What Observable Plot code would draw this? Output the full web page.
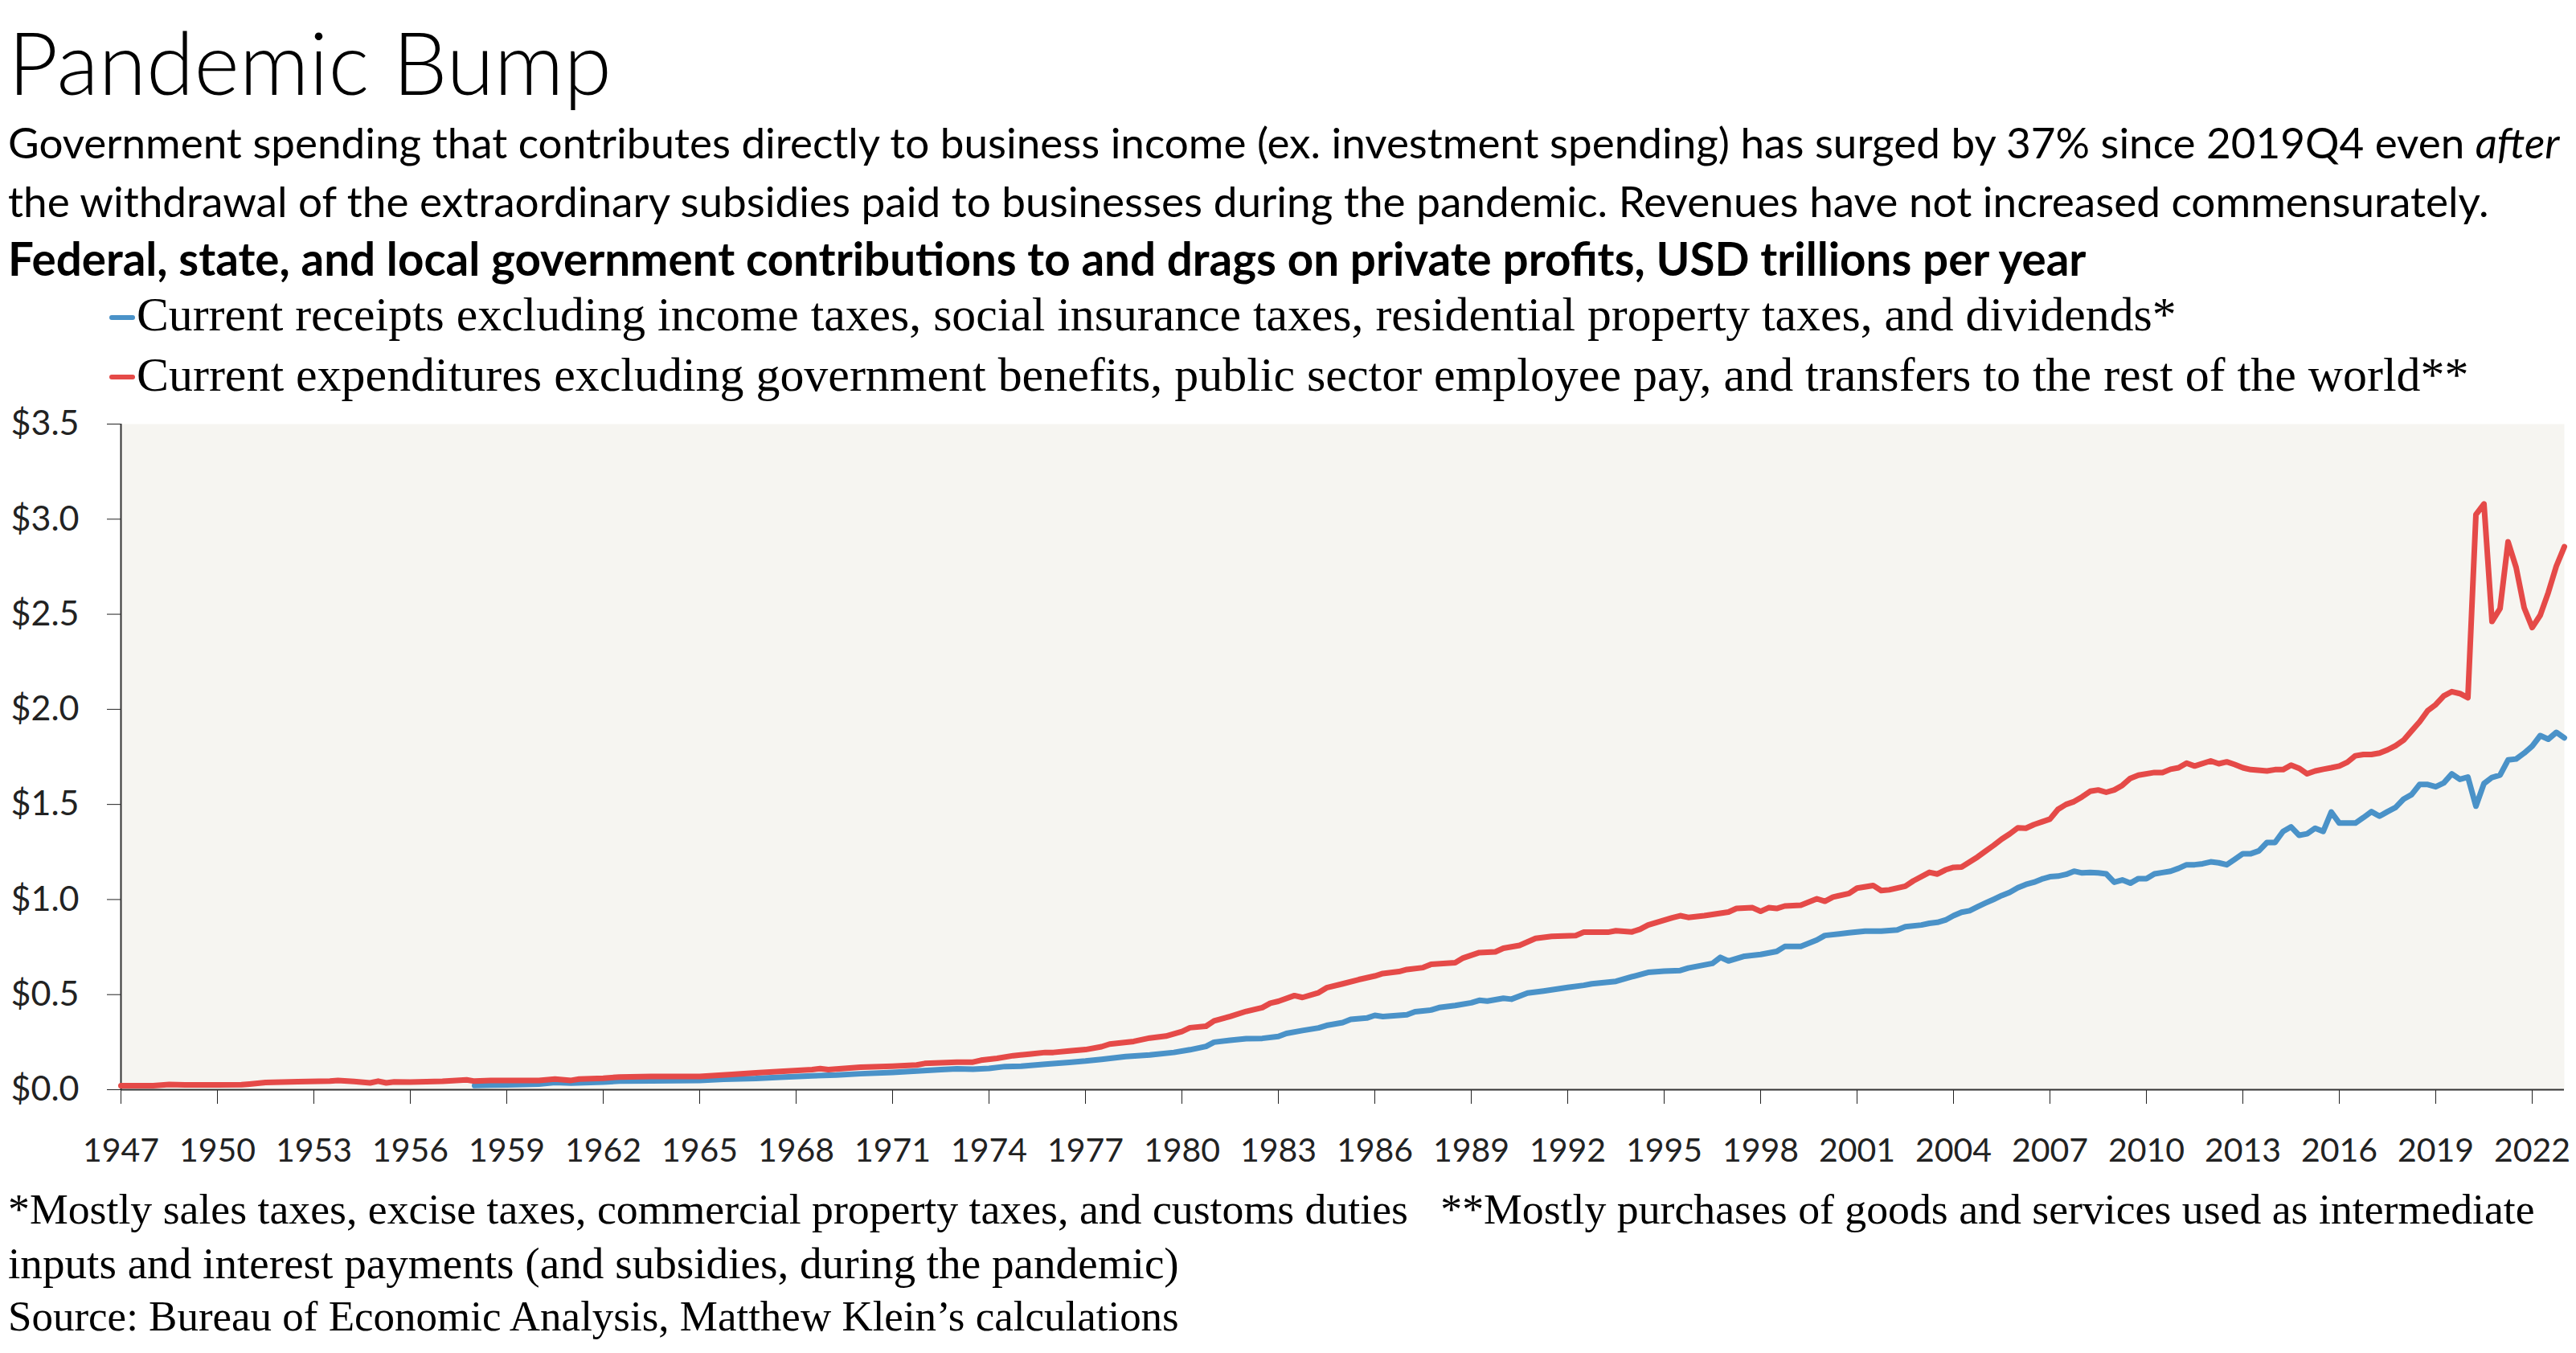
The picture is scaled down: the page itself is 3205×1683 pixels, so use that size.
<!DOCTYPE html>
<html>
<head>
<meta charset="utf-8">
<script src="https://cdn.jsdelivr.net/npm/d3@7"></script>
<script src="https://cdn.jsdelivr.net/npm/@observablehq/plot@0.6"></script>
<style>
  html, body { margin: 0; padding: 0; background: #ffffff; }
  body { width: 3205px; height: 1683px; position: relative; overflow: hidden; }
  .t { position: absolute; left: 10px; top: 0px; white-space: pre; display: inline-block; color: #000; line-height: 1; }
  .sans { font-family: Lato, "Open Sans", sans-serif; }
  .serif { font-family: "Liberation Serif", "DejaVu Serif", serif; }
  .dash { position: absolute; left: 136px; width: 32px; height: 6px; border-radius: 3px; }
  #chart { position: absolute; left: 0; top: 500px; }
  #chart svg g[aria-label="y-axis tick label"] text { font-size: 43px; }
</style>
</head>
<body>
<div id="title" class="t sans" style="font-size:98px;font-weight:300;">Pandemic Bump</div>
<div id="sub1" class="t sans" style="font-size:48px;">Government spending that contributes directly to business income (ex. investment spending) has surged by 37% since 2019Q4 even <i>after</i></div>
<div id="sub2" class="t sans" style="font-size:48px;">the withdrawal of the extraordinary subsidies paid to businesses during the pandemic. Revenues have not increased commensurately.</div>
<div id="head" class="t sans" style="font-size:46px;font-weight:700;">Federal, state, and local government contributions to and drags on private profits, USD trillions per year</div>
<div class="dash" style="top:392px;background:#4a92c8;"></div>
<div id="leg1" class="t serif" style="left:170px;font-size:54px;">Current receipts excluding income taxes, social insurance taxes, residential property taxes, and dividends*</div>
<div class="dash" style="top:466px;background:#e54a48;"></div>
<div id="leg2" class="t serif" style="left:170px;font-size:54px;">Current expenditures excluding government benefits, public sector employee pay, and transfers to the rest of the world**</div>
<div id="chart"></div>
<div id="foot1" class="t serif" style="font-size:48px;">*Mostly sales taxes, excise taxes, commercial property taxes, and customs duties   **Mostly purchases of goods and services used as intermediate</div>
<div id="foot2" class="t serif" style="font-size:48px;">inputs and interest payments (and subsidies, during the pandemic)</div>
<div id="foot3" class="t serif" style="font-size:48px;">Source: Bureau of Economic Analysis, Matthew Klein’s calculations</div>

<script>
// ---- DATA (USD trillions per year) ----
const expYears = [1947,1948,1948.5,1949,1950,1950.75,1951,1951.5,1952.5,1953.5,1953.75,1954.25,1954.75,1955,1955.25,1955.5,1956,1957,1957.75,1958,1958.5,1959,1960,1960.5,1961,1961.25,1962,1962.5,1963.5,1965,1966,1966.75,1967.5,1968.5,1968.75,1969,1970,1971,1971.75,1972,1973,1973.5,1973.75,1974.25,1974.75,1975.25,1975.75,1976,1976.5,1977,1977.5,1977.75,1978.5,1979,1979.5,1980,1980.25,1980.75,1981,1981.5,1982,1982.5,1982.75,1983,1983.5,1983.75,1984.25,1984.5,1985,1985.5,1986,1986.25,1986.75,1987,1987.5,1987.75,1988.5,1988.75,1989.25,1989.75,1990,1990.5,1991,1991.5,1992.25,1992.5,1993.25,1993.5,1994,1994.25,1994.5,1995.25,1995.5,1995.75,1996.25,1996.75,1997,1997.25,1997.75,1998,1998.25,1998.5,1998.75,1999.25,1999.75,2000,2000.25,2000.75,2001,2001.5,2001.75,2002,2002.5,2002.75,2003.25,2003.5,2003.75,2004,2004.25,2004.5,2004.75,2005,2005.25,2005.5,2005.75,2006,2006.25,2006.5,2007,2007.25,2007.5,2007.75,2008,2008.25,2008.5,2008.75,2009,2009.25,2009.5,2009.75,2010.25,2010.5,2010.75,2011,2011.25,2011.5,2012,2012.25,2012.5,2012.75,2013,2013.25,2013.75,2014,2014.25,2014.5,2014.75,2015,2015.25,2015.5,2015.75,2016,2016.25,2016.5,2016.75,2017,2017.25,2017.5,2017.75,2018,2018.25,2018.5,2018.75,2019,2019.25,2019.5,2019.75,2020,2020.25,2020.5,2020.75,2021,2021.25,2021.5,2021.75,2022,2022.25,2022.5,2022.75,2023];
const expValues = [0.021,0.021,0.027,0.025,0.025,0.026,0.030,0.038,0.042,0.045,0.049,0.043,0.036,0.045,0.036,0.041,0.040,0.044,0.052,0.045,0.049,0.049,0.049,0.056,0.049,0.056,0.060,0.067,0.070,0.070,0.080,0.089,0.096,0.106,0.111,0.106,0.118,0.124,0.130,0.138,0.145,0.145,0.155,0.165,0.179,0.187,0.196,0.196,0.204,0.211,0.226,0.240,0.254,0.272,0.282,0.306,0.326,0.334,0.362,0.385,0.412,0.432,0.455,0.465,0.495,0.485,0.510,0.536,0.557,0.579,0.598,0.611,0.621,0.632,0.642,0.659,0.668,0.693,0.721,0.725,0.744,0.759,0.796,0.806,0.811,0.828,0.828,0.836,0.830,0.844,0.866,0.904,0.915,0.906,0.915,0.928,0.934,0.953,0.957,0.938,0.957,0.953,0.966,0.970,1.004,0.991,1.013,1.032,1.060,1.074,1.047,1.051,1.070,1.098,1.143,1.134,1.156,1.169,1.171,1.197,1.224,1.255,1.285,1.318,1.345,1.377,1.375,1.394,1.423,1.474,1.500,1.515,1.540,1.569,1.576,1.564,1.576,1.600,1.637,1.654,1.668,1.668,1.685,1.693,1.717,1.702,1.729,1.714,1.724,1.710,1.693,1.683,1.676,1.683,1.683,1.707,1.690,1.661,1.676,1.685,1.693,1.702,1.722,1.756,1.763,1.763,1.770,1.787,1.809,1.838,1.887,1.935,1.993,2.025,2.071,2.093,2.083,2.061,3.024,3.080,2.462,2.530,2.881,2.746,2.534,2.430,2.495,2.614,2.753,2.855];

const recYears = [1958,1958.5,1959,1959.5,1960,1960.5,1961,1962,1962.5,1963.5,1965,1965.75,1966.75,1967.5,1968.5,1969.25,1970,1971,1971.75,1972.5,1973,1973.5,1974,1974.5,1975,1975.75,1976,1976.5,1977,1977.5,1978.25,1979,1979.75,1980.25,1980.75,1981,1981.5,1982,1982.5,1983,1983.25,1983.75,1984.25,1984.5,1985,1985.25,1985.75,1986,1986.25,1987,1987.25,1987.75,1988,1988.5,1989,1989.25,1989.5,1990,1990.25,1990.75,1991.25,1992,1992.5,1992.75,1993.5,1994,1994.5,1995,1995.5,1995.75,1996.5,1996.75,1997,1997.5,1998,1998.5,1998.75,1999.25,1999.75,2000,2000.75,2001.25,2001.75,2002.25,2002.5,2003,2003.25,2003.5,2003.75,2004,2004.25,2004.5,2004.75,2005,2005.25,2005.5,2005.75,2006,2006.25,2006.5,2006.75,2007,2007.25,2007.5,2007.75,2008,2008.25,2008.5,2008.75,2009,2009.25,2009.5,2009.75,2010,2010.25,2010.5,2010.75,2011,2011.25,2011.5,2011.75,2012,2012.25,2012.5,2012.75,2013,2013.25,2013.5,2013.75,2014,2014.25,2014.5,2014.75,2015,2015.25,2015.5,2015.75,2016,2016.25,2016.5,2016.75,2017,2017.25,2017.5,2017.75,2018,2018.25,2018.5,2018.75,2019,2019.25,2019.5,2019.75,2020,2020.25,2020.5,2020.75,2021,2021.25,2021.5,2021.75,2022,2022.25,2022.5,2022.75,2023];
const recValues = [0.022,0.024,0.025,0.027,0.030,0.038,0.035,0.040,0.045,0.047,0.049,0.055,0.059,0.066,0.073,0.077,0.084,0.091,0.098,0.106,0.110,0.108,0.112,0.122,0.124,0.134,0.137,0.144,0.151,0.160,0.174,0.183,0.196,0.210,0.228,0.250,0.260,0.268,0.270,0.280,0.296,0.311,0.325,0.338,0.353,0.370,0.377,0.391,0.385,0.394,0.410,0.419,0.432,0.443,0.457,0.470,0.466,0.481,0.476,0.508,0.519,0.538,0.549,0.557,0.570,0.594,0.617,0.623,0.627,0.640,0.664,0.696,0.677,0.702,0.711,0.727,0.753,0.753,0.787,0.811,0.825,0.834,0.834,0.840,0.857,0.866,0.875,0.880,0.892,0.915,0.933,0.941,0.962,0.982,1.001,1.021,1.038,1.062,1.079,1.091,1.108,1.120,1.123,1.132,1.149,1.140,1.142,1.140,1.135,1.091,1.103,1.086,1.110,1.110,1.135,1.142,1.149,1.164,1.183,1.183,1.188,1.198,1.193,1.183,1.212,1.241,1.241,1.256,1.300,1.300,1.358,1.382,1.338,1.346,1.375,1.358,1.460,1.402,1.402,1.402,1.431,1.462,1.438,1.462,1.484,1.528,1.552,1.605,1.605,1.593,1.613,1.661,1.632,1.644,1.491,1.610,1.642,1.654,1.734,1.739,1.770,1.807,1.862,1.843,1.879,1.850];

const xTicks = d3.range(1947, 2023, 3);           // 1947, 1950, ..., 2022
const yTicks = [0, 0.5, 1, 1.5, 2, 2.5, 3, 3.5];

const expData = expYears.map((t, i) => ({t, v: expValues[i]}));
const recData = recYears.map((t, i) => ({t, v: recValues[i]}));

const chart = Plot.plot({
  width: 3205,
  height: 980,
  marginLeft: 150,
  marginRight: 15,
  marginTop: 27,
  marginBottom: 125,
  style: {fontFamily: "Lato, 'Open Sans', sans-serif", fontSize: "41px", background: "transparent", color: "#222", fontVariantNumeric: "oldstyle-nums"},
  x: {domain: [1947, 2023], ticks: xTicks, tickFormat: d => String(d), tickSize: 18, tickPadding: 42, label: null},
  y: {domain: [0, 3.5], ticks: yTicks, tickFormat: d => "$" + d.toFixed(1), tickSize: 17, tickPadding: 35, label: null},
  marks: [
    Plot.frame({fill: "#f6f5f1", stroke: null}),
    Plot.ruleX([1947], {stroke: "#333", strokeWidth: 2}),
    Plot.ruleY([0], {stroke: "#333", strokeWidth: 2}),
    Plot.lineY(recData, {x: "t", y: "v", stroke: "#4a92c8", strokeWidth: 7, strokeLinejoin: "round"}),
    Plot.lineY(expData, {x: "t", y: "v", stroke: "#e54a48", strokeWidth: 7, strokeLinejoin: "round"})
  ]
});
document.getElementById("chart").appendChild(chart);

// ---- text placement: fit width and put baseline at given y ----
function place(id, baseline, width) {
  const el = document.getElementById(id);
  if (width) {
    const w = el.getBoundingClientRect().width;
    const fs = parseFloat(getComputedStyle(el).fontSize);
    el.style.fontSize = (fs * width / w) + "px";
  }
  const m = document.createElement("span");
  m.style.cssText = "display:inline-block;width:0;height:0;vertical-align:baseline;";
  el.appendChild(m);
  const b = m.getBoundingClientRect().top;
  const cur = parseFloat(el.style.top || "0");
  el.style.top = (cur + baseline - b) + "px";
}
function layout() {
  place("title", 118, 751);
  place("sub1", 197, 3175);
  place("sub2", 270, 3087);
  place("head", 343, 2586);
  place("leg1", 411, 2538);
  place("leg2", 486, 2902);
  place("foot1", 1522, 3144);
  place("foot2", 1590, 1457);
  place("foot3", 1655, 1457);
}
if (document.fonts && document.fonts.ready) document.fonts.ready.then(layout); else layout();
</script>
</body>
</html>
